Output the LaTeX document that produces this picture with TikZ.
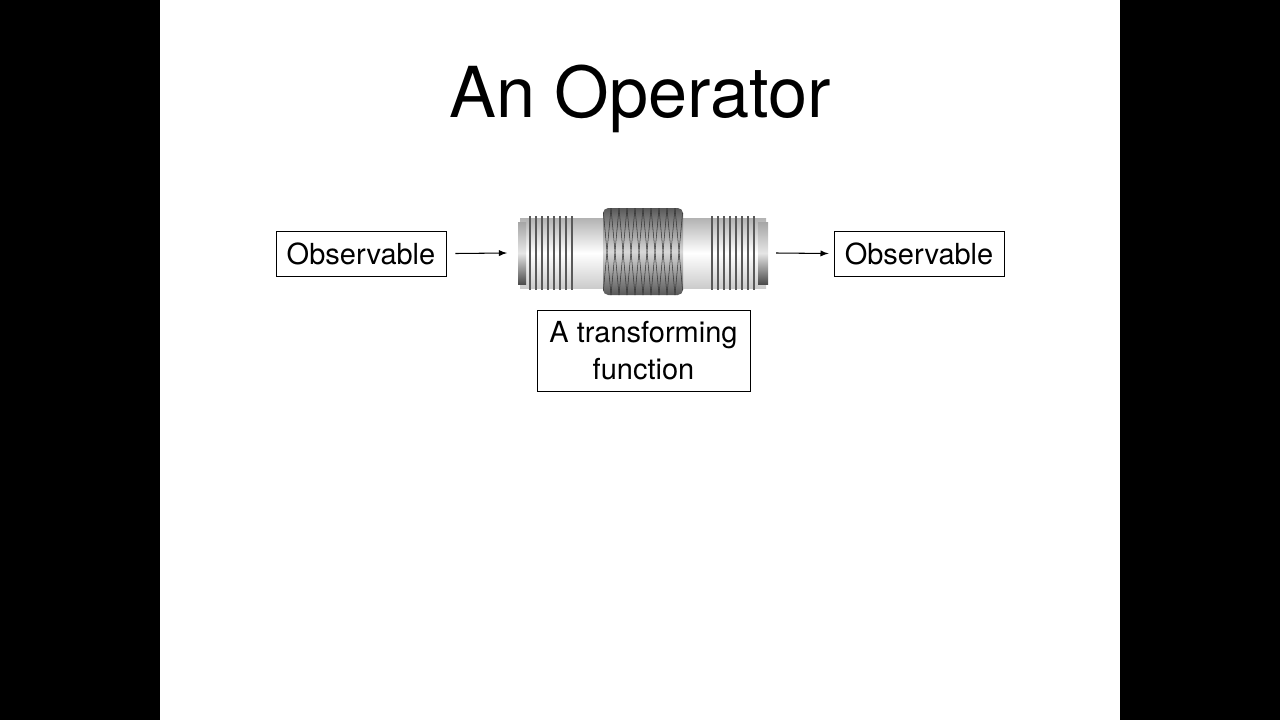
\documentclass[tikz,border=0pt]{standalone}
\usepackage{fontspec}
\setmainfont{TeX Gyre Heros}
\begin{document}
\begin{tikzpicture}[x=0.02cm,y=-0.02cm,
  lbl/.style={draw,line width=0.5pt,inner sep=0pt,align=center,font=\fontsize{16.5}{21}\selectfont},
  arr/.style={-latex,line width=0.6pt}]
\useasboundingbox (0,0) rectangle (1280,720);
\fill[black] (0,0) rectangle (160,720);
\fill[black] (1120,0) rectangle (1280,720);
\node (title) at (640,99) {\fontsize{40}{48}\selectfont An Operator};
\node[lbl,minimum width=170*0.02cm,minimum height=45*0.02cm] (in) at (361,253.5) {Observable};
\node[lbl,minimum width=170*0.02cm,minimum height=45*0.02cm] (out) at (919,253.5) {Observable};
\node[lbl,minimum width=213*0.02cm,minimum height=81*0.02cm] (fn) at (643.5,350.5) {A transforming\\function};
% connector drawing
\shade[top color=gray!60,bottom color=gray!40,middle color=white] (520,218) rectangle (606,288);
\shade[top color=gray!60,bottom color=gray!40,middle color=white] (682,218) rectangle (766,288);
\foreach \x in {530,536,...,572} \draw[gray!70!black,line width=1.2pt] (\x,216)--(\x,290);
\foreach \x in {712,718,...,754} \draw[gray!70!black,line width=1.2pt] (\x,216)--(\x,290);
\shade[top color=gray!70,bottom color=gray!60!black,middle color=gray!20] (518,222) rectangle (526,284);
\shade[top color=gray!70,bottom color=gray!60!black,middle color=gray!20] (758,222) rectangle (768,284);
\begin{scope}
\clip[rounded corners=3pt] (603,208) rectangle (683,295);
\shade[top color=gray!70!black,bottom color=gray!70!black,middle color=gray!30] (603,208) rectangle (683,295);
\foreach \x in {595,603,...,683} \draw[gray!40!black,line width=0.3pt] (\x,208)--(\x+8,295);
\foreach \x in {603,611,...,691} \draw[gray!40!black,line width=0.3pt] (\x+8,208)--(\x,295);
\end{scope}
\coordinate (cl) at (507,253);
\coordinate (cr) at (776,253);
\draw[arr] (in.east)++(9,0) -- (cl);
\draw[arr] (cr) -- ([xshift=-5*0.02cm]out.west);
\end{tikzpicture}
\end{document}
